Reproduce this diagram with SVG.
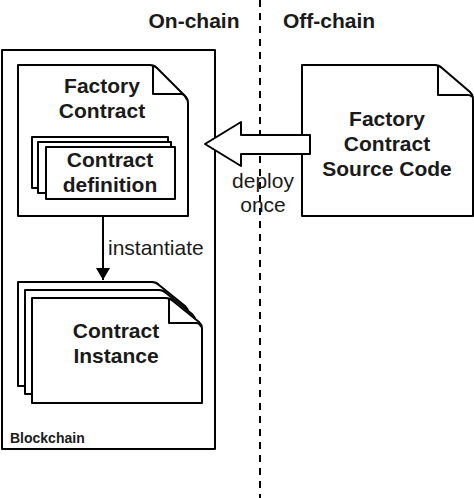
<svg xmlns="http://www.w3.org/2000/svg" width="474" height="498" viewBox="0 0 474 498">
<style>
.s{fill:#fff;stroke:#000;stroke-width:2;stroke-linejoin:round}
.f{fill:none;stroke:#000;stroke-width:2;stroke-linejoin:round}
.b{font-family:"Liberation Sans",Arial,sans-serif;font-weight:bold;font-size:21px;text-anchor:middle;fill:#1a1a1a}
.n{font-family:"Liberation Sans",Arial,sans-serif;font-size:21px;fill:#1a1a1a}
</style>
<defs>
<marker id="ah" markerWidth="12" markerHeight="18" refX="12" refY="9" orient="auto" markerUnits="userSpaceOnUse">
<path d="M0,2 L12,9 L0,16 Z" fill="#000"/>
</marker>
</defs>
<rect width="474" height="498" fill="#fff"/>
<g id="divider">
<line x1="260" y1="0" x2="260" y2="498" stroke="#000" stroke-width="2" stroke-dasharray="7,6"/>
<text class="b" x="194" y="28">On-chain</text>
<text class="b" x="329" y="28">Off-chain</text>
</g>
<g id="blockchain">
<rect class="s" x="2" y="50" width="213" height="399"/>
<text class="b" x="10" y="443" style="font-size:14px;text-anchor:start">Blockchain</text>
</g>
<g id="factory-contract">
<path class="s" d="M18,65 H150 Q154,65 157,68 L185,96 Q188,99 188,103 V216 H18 Z"/>
<path class="f" d="M153,66 V94 H181 Q185,94 187,100"/>
<text class="b" x="102" y="93">Factory</text>
<text class="b" x="102" y="118">Contract</text>
</g>
<g id="contract-definition">
<rect class="s" x="32" y="137" width="136" height="51"/>
<rect class="s" x="38" y="142" width="133" height="51"/>
<rect class="s" x="46" y="147" width="129" height="52"/>
<text class="b" x="110" y="167">Contract</text>
<text class="b" x="110" y="192">definition</text>
</g>
<g id="contract-instance">
<path class="s" d="M18,282 H152 Q156,282 159,285 L185,306 Q188,309 188,312 V386 H18 Z"/>
<path class="s" d="M25,290 H159 Q163,290 166,293 L192,314 Q195,317 195,320 V394 H25 Z"/>
<path class="s" d="M32,298 H166 Q170,298 173,301 L199,322 Q202,325 202,328 V403 H32 Z"/>
<path class="f" d="M169,299 V323 H196 Q200,323 201,327"/>
<text class="b" x="116" y="338">Contract</text>
<text class="b" x="116" y="363">Instance</text>
</g>
<g id="source-code">
<path class="s" d="M302,65 H435 Q439,65 442,68 L470,92 Q473,95 473,99 V216 H302 Z"/>
<path class="f" d="M438,66 V95 H468 Q471,95 472,97"/>
<text class="b" x="387" y="126">Factory</text>
<text class="b" x="387" y="151">Contract</text>
<text class="b" x="387" y="176">Source Code</text>
</g>
<g id="connectors">
<line x1="103" y1="216" x2="103" y2="280" stroke="#000" stroke-width="2" marker-end="url(#ah)"/>
<text class="n" x="108" y="255">instantiate</text>
<path class="s" d="M310,135 H241 V122 L205,144 L241,166 V154 H310 Z"/>
<text class="n" x="263" y="188" text-anchor="middle">deploy</text>
<text class="n" x="263" y="212" text-anchor="middle">once</text>
</g>
</svg>
